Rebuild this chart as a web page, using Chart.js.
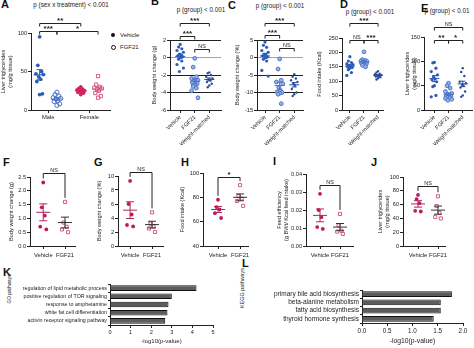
<!DOCTYPE html>
<html>
<head>
<meta charset="utf-8">
<script src="https://cdn.jsdelivr.net/npm/chart.js@4.4.1/dist/chart.umd.min.js"></script>
<style>
    body { margin: 0; width: 474px; height: 348px; overflow: hidden; position: relative; background: #fff;
           font-family: "Liberation Sans", Arial, sans-serif; color: #222; }
    canvas { position: absolute; }
    .txt { position: absolute; white-space: nowrap; line-height: 1; }
    .letter { position: absolute; font-weight: bold; font-size: 11px; line-height: 1; color: #111; }
    .ptext { position: absolute; white-space: nowrap; font-size: 6.3px; line-height: 1; transform: translateX(-50%); }
    .vert { position: absolute; white-space: nowrap; line-height: 1; transform: translate(-50%, -50%) rotate(-90deg); }
</style>
</head>
<body>

<div class="letter" style="left:1px;top:-1px">A</div>
<div class="letter" style="left:151px;top:-4px">B</div>
<div class="letter" style="left:228px;top:0px">C</div>
<div class="letter" style="left:340px;top:-1px">D</div>
<div class="letter" style="left:421px;top:3px">E</div>
<div class="letter" style="left:3px;top:157px">F</div>
<div class="letter" style="left:94px;top:157px">G</div>
<div class="letter" style="left:181px;top:157px">H</div>
<div class="letter" style="left:273px;top:156px">I</div>
<div class="letter" style="left:371px;top:157px">J</div>
<div class="letter" style="left:3px;top:267px">K</div>
<div class="letter" style="left:242px;top:258px">L</div>

<div class="ptext" style="left:71px;top:2px">p (sex x treatment) &lt; 0.001</div>
<div class="ptext" style="left:201px;top:7px">p (group) &lt; 0.001</div>
<div class="ptext" style="left:280px;top:3px">p (group) &lt; 0.001</div>
<div class="ptext" style="left:370px;top:9px">p (group) &lt; 0.001</div>
<div class="ptext" style="left:447px;top:8px">p (group) &lt; 0.01</div>

<!-- legend of panel A -->
<div style="position:absolute;left:111px;top:33px;width:4px;height:4px;border-radius:50%;background:#111"></div>
<div style="position:absolute;left:111px;top:45px;width:3px;height:3px;border-radius:50%;border:1px solid #111"></div>
<div class="txt" style="left:120px;top:32px;font-size:6px">Vehicle</div>
<div class="txt" style="left:120px;top:44px;font-size:6px">FGF21</div>

<div class="vert" style="left:10px;top:289px;font-size:4.8px">GO pathways</div>
<div class="vert" style="left:243px;top:288px;font-size:5.4px">KEGG pathways</div>

<script>
// panel A: liver triglycerides by sex
const sexGroups = ['Male', 'Female'];
const aTicks = [0, 50, 100];
const aMaleVehicle = [95, 58, 50, 47, 46, 43, 40, 37, 21, 20];
const aMaleFgf21 = [23, 20, 18, 16, 15, 14, 12, 11, 8, 6];
const aFemaleVehicle = [30, 28, 27, 26, 25, 25, 24, 23, 22, 20];
const aFemaleFgf21 = [44, 33, 30, 29, 28, 27, 25, 22, 18, 16];

// panels B-E: three groups
const treatGroups = ['Vehicle', 'FGF21', 'Weight-matched'];
const bTicks = [-6, -4, -2, 0, 2];
const bVehicle = [1.5, 1.2, 1.0, 0.8, 0.6, 0.4, 0.3, 0.2, 0.1, 0.0, -0.2, -0.4, -0.8, -1.2, -1.6];
const bFgf21 = [-0.1, -1.1, -2.2, -2.4, -2.6, -2.7, -2.8, -2.9, -3.0, -3.1, -3.3, -3.5, -3.8, -4.6];
const bMatched = [-1.7, -1.8, -2.0, -2.2, -2.4, -2.5, -2.6, -2.8, -3.0, -3.2, -3.4];
const cTicks = [-15, -10, -5, 0, 5];
const cVehicle = [4.4, 3.5, 2.9, 2.0, 1.5, 1.0, 0.8, 0.5, 0.2, 0.0, -0.5, -1.0, -3.7, -5.3];
const cFgf21 = [-0.4, -3.3, -6.5, -7.0, -7.5, -8.5, -9.5, -9.8, -10.0, -10.2, -10.5, -13.2];
const cMatched = [-4.8, -5.5, -6.0, -6.5, -7.0, -7.5, -8.0, -9.0, -10.0, -10.5, -11.0];
const dTicks = [0, 50, 100, 150, 200, 250];
const dVehicle = [185, 170, 165, 160, 158, 155, 153, 150, 148, 145, 140, 130, 120];
const dFgf21 = [202, 175, 172, 170, 168, 166, 164, 162, 160, 158, 155, 150];
const dMatched = [135, 130, 126, 124, 122, 120, 118, 116, 114, 110, 106];
const eTicks = [0, 50, 100, 150];
const eVehicle = [98, 97, 86, 79, 72, 68, 64, 62, 58, 50, 48, 30, 27];
const eFgf21 = [55, 50, 45, 38, 34, 32, 30, 29, 28, 27, 26, 25, 24, 22, 20];
const eMatched = [86, 78, 70, 58, 55, 52, 50, 46, 38, 30, 27];

// panels F-J: two groups
const pairGroups = ['Vehicle', 'FGF21'];
const fTicks = [0, 0.5, 1, 1.5, 2, 2.5];
const fVehicle = [2.3, 1.4, 1.1, 0.7, 0.6];
const fFgf21 = [1.6, 0.85, 0.7, 0.6, 0.5];
const gTicks = [0, 2, 4, 6, 8, 10];
const gVehicle = [9.3, 6.0, 4.5, 3.0, 2.8];
const gFgf21 = [4.8, 3.2, 2.8, 2.5, 2.0];
const hTicks = [40, 60, 80, 100];
const hVehicle = [78, 72, 70, 67, 63];
const hFgf21 = [90, 81, 79, 77, 73];
const iTicks = [0, 0.01, 0.02, 0.03, 0.04];
const iVehicle = [0.029, 0.02, 0.016, 0.0105, 0.0095];
const iFgf21 = [0.0178, 0.0115, 0.0085, 0.008, 0.0067];
const jTicks = [0, 20, 40, 60, 80, 100];
const jVehicle = [74, 68, 62, 51, 50];
const jFgf21 = [72, 58, 48, 42, 40];

// panels K and L: pathway enrichment
const goPathways = ['regulation of lipid metabolic process', 'positive regulation of TOR signaling',
    'response to amphetamine', 'white fat cell differentiation', 'activin receptor signaling pathway'];
const goScores = [4.2, 3.0, 2.84, 2.79, 2.68];
const goTicks = [0, 1, 2, 3, 4, 5];
const keggPathways = ['primary bile acid biosynthesis', 'beta-alanine metabolism',
    'fatty acid biosynthesis', 'thyroid hormone synthesis'];
const keggScores = [1.78, 1.56, 1.56, 1.42];
const keggTicks = [0, 0.5, 1, 1.5, 2];

const FONT = "'Liberation Sans', Arial, sans-serif";
const INK = '#222';
const BLUE = '#2d5cb5';
const LIGHT_BLUE = '#4a72c8';
const CRIMSON = '#d3245e';
const PINK = '#d65a86';

function font(size, weight) {
    return { family: FONT, size: size, weight: weight || 'normal', lineHeight: 1.2 };
}

function makeCanvas(L, T, W, H) {
    const c = document.createElement('canvas');
    c.width = W;
    c.height = H;
    c.style.left = L + 'px';
    c.style.top = T + 'px';
    document.body.appendChild(c);
    return c;
}

// keep axis boxes at a fixed size so the plot area lands where the figure has it
function fixSize(size, vertical) {
    return function(s) {
        if (vertical) s.width = size; else s.height = size;
        s.paddingLeft = s.paddingRight = s.paddingTop = s.paddingBottom = 0;
    };
}

// beeswarm-like spread, just a style pattern by rank
const spreadPattern = [0, -1, 1, -2, 2, -0.5, 0.5, -1.5, 1.5];

function stats(arr) {
    const n = arr.length;
    const mean = arr.reduce((a, b) => a + b, 0) / n;
    const sd = Math.sqrt(arr.reduce((a, b) => a + (b - mean) * (b - mean), 0) / (n - 1));
    return { mean: mean, sem: sd / Math.sqrt(n) };
}

function dotPlot(p) {
    const c = makeCanvas(p.box[0], p.box[1], p.box[2], p.box[3]);
    const [L, T, W, H] = p.box;
    const [l, t, r, b] = p.area;

    const marks = {
        id: 'marks',
        afterDatasetsDraw(chart) {
            const ctx = chart.ctx, xs = chart.scales.x, ys = chart.scales.y;
            ctx.save();
            ctx.lineWidth = 1;
            p.series.forEach(s => {
                const st = stats(s.data);
                const cx = xs.getPixelForValue(s.cat + s.shift);
                const ym = ys.getPixelForValue(st.mean);
                const y1 = ys.getPixelForValue(st.mean + st.sem);
                const y2 = ys.getPixelForValue(st.mean - st.sem);
                ctx.strokeStyle = s.meanColor || s.color;
                ctx.beginPath();
                ctx.moveTo(cx - p.meanW, ym); ctx.lineTo(cx + p.meanW, ym);
                ctx.moveTo(cx, y1); ctx.lineTo(cx, y2);
                ctx.moveTo(cx - p.capW, y1); ctx.lineTo(cx + p.capW, y1);
                ctx.moveTo(cx - p.capW, y2); ctx.lineTo(cx + p.capW, y2);
                ctx.stroke();
            });
            // significance brackets
            ctx.strokeStyle = INK;
            ctx.fillStyle = INK;
            ctx.textAlign = 'center';
            ctx.textBaseline = 'alphabetic';
            (p.brackets || []).forEach(br => {
                const sa = p.series[br.a], sb = p.series[br.b];
                const x1 = xs.getPixelForValue(sa.cat + sa.shift);
                const x2 = xs.getPixelForValue(sb.cat + sb.shift);
                const y = Math.round(ys.getPixelForValue(br.y)) + 0.5;
                let l1 = y + 3, l2 = y + 3;
                if (p.longLegs) {
                    l1 = ys.getPixelForValue(Math.max(...sa.data)) - 4;
                    l2 = ys.getPixelForValue(Math.max(...sb.data)) - 4;
                }
                ctx.beginPath();
                ctx.moveTo(x1, l1); ctx.lineTo(x1, y); ctx.lineTo(x2, y); ctx.lineTo(x2, l2);
                ctx.stroke();
                const stars = br.text.indexOf('*') >= 0;
                ctx.font = stars ? 'bold 8px ' + FONT : '5.5px ' + FONT;
                ctx.fillText(br.text, (x1 + x2) / 2, stars ? y - 1 : y - 2);
            });
            ctx.restore();
        }
    };

    const datasets = p.series.map(s => ({
        data: s.data.map((v, i) => ({
            x: s.cat + s.shift + spreadPattern[i % spreadPattern.length] * p.spread,
            y: v
        })),
        pointStyle: s.style || 'circle',
        pointRadius: s.r,
        pointBorderWidth: s.open ? 1 : 0,
        pointBackgroundColor: s.open ? (s.fill || 'rgba(255,255,255,0)') : s.color,
        pointBorderColor: s.color,
        clip: false
    }));

    const yTicks = p.ticks;
    new Chart(c, {
        type: 'scatter',
        data: { datasets: datasets },
        options: {
            responsive: false,
            animation: false,
            events: [],
            layout: { autoPadding: false, padding: { left: 0, top: t - T, right: L + W - r, bottom: 0 } },
            plugins: { legend: { display: false }, tooltip: { enabled: false } },
            scales: {
                x: {
                    type: 'linear',
                    min: p.xRange[0],
                    max: p.xRange[1],
                    afterBuildTicks: s => { s.ticks = p.labels.map((_, i) => ({ value: i })); },
                    afterFit: fixSize(T + H - b, false),
                    ticks: {
                        callback: v => p.labels[v],
                        font: font(p.xFont || 5.8),
                        color: INK,
                        padding: p.xPad || 1,
                        autoSkip: false,
                        maxRotation: p.rotate || 0,
                        minRotation: p.rotate || 0
                    },
                    grid: { display: true, drawOnChartArea: false, tickLength: 3, color: INK, tickColor: INK },
                    border: { display: true, color: INK, width: 1 }
                },
                y: {
                    min: yTicks[0],
                    max: yTicks[yTicks.length - 1],
                    afterBuildTicks: s => { s.ticks = yTicks.map(v => ({ value: v })); },
                    afterFit: fixSize(l - L, true),
                    ticks: {
                        callback: p.fmt || (v => v),
                        font: font(5.6),
                        color: INK,
                        padding: 1
                    },
                    grid: {
                        display: true,
                        drawOnChartArea: !!p.zeroLine,
                        tickLength: 3,
                        color: ctx => (p.zeroLine && ctx.tick && ctx.tick.value === 0) ? '#98a4b4' : INK,
                        tickColor: INK
                    },
                    border: { display: true, color: INK, width: 1 },
                    title: { display: true, text: p.yTitle, font: font(5.6), color: INK, padding: 0 }
                }
            }
        },
        plugins: [marks]
    });
}

function barPanel(p) {
    const c = makeCanvas(p.box[0], p.box[1], p.box[2], p.box[3]);
    const [L, T, W, H] = p.box;
    const [l, t, r, b] = p.area;
    const xTicks = p.ticks;
    new Chart(c, {
        type: 'bar',
        data: {
            labels: p.labels,
            datasets: [{
                data: p.values,
                backgroundColor: '#5c5c5c',
                borderColor: '#111',
                borderWidth: 1,
                barPercentage: 0.68,
                categoryPercentage: 1
            }]
        },
        options: {
            indexAxis: 'y',
            responsive: false,
            animation: false,
            events: [],
            layout: { autoPadding: false, padding: { left: 0, top: t - T, right: L + W - r, bottom: 0 } },
            plugins: { legend: { display: false }, tooltip: { enabled: false } },
            scales: {
                x: {
                    min: xTicks[0],
                    max: xTicks[xTicks.length - 1],
                    afterBuildTicks: s => { s.ticks = xTicks.map(v => ({ value: v })); },
                    afterFit: fixSize(T + H - b, false),
                    ticks: { callback: p.fmt, font: font(p.tickFont), color: INK, padding: 1 },
                    grid: { display: true, drawOnChartArea: false, tickLength: 3, color: INK, tickColor: INK },
                    border: { display: true, color: INK, width: 1 },
                    title: { display: true, text: '-log10(p-value)', font: font(p.titleFont), color: INK,
                              padding: { top: 1, bottom: 3 } }
                },
                y: {
                    afterFit: fixSize(l - L, true),
                    ticks: { font: font(p.labelFont), color: INK, padding: 1, autoSkip: false },
                    grid: { display: true, drawOnChartArea: false, tickLength: 2, color: INK, tickColor: INK },
                    border: { display: true, color: INK, width: 1 }
                }
            }
        }
    });
}

// ---- panel A ----
dotPlot({
    box: [0, 0, 112, 125], area: [31, 33, 110, 110],
    labels: sexGroups, ticks: aTicks, xRange: [-0.42, 1.5],
    yTitle: ['Liver triglycerides', '(mg/g tissue)'],
    spread: 0.045, meanW: 6, capW: 3,
    series: [
        { data: aMaleVehicle, cat: 0, shift: -0.21, color: BLUE, r: 1.9 },
        { data: aMaleFgf21, cat: 0, shift: 0.21, color: LIGHT_BLUE, r: 2.1, open: true },
        { data: aFemaleVehicle, cat: 1, shift: -0.21, color: CRIMSON, r: 1.9 },
        { data: aFemaleFgf21, cat: 1, shift: 0.21, color: PINK, r: 2.3, open: true, style: 'rect' }
    ],
    brackets: [
        { a: 0, b: 1, y: 103, text: '***' },
        { a: 1, b: 3, y: 103, text: '*' },
        { a: 0, b: 2, y: 113, text: '**' }
    ]
});

// three-group panels share their look
function threeGroup(box, area, ticks, xRange, yTitle, vehicle, fgf21, matched, brackets, zeroLine) {
    dotPlot({
        box: box, area: area, labels: treatGroups, ticks: ticks, xRange: xRange,
        yTitle: yTitle, spread: 0.11, meanW: 5, capW: 2.5, rotate: 45, xFont: 5.6, zeroLine: zeroLine,
        series: [
            { data: vehicle, cat: 0, shift: 0, color: BLUE, r: 1.6 },
            { data: fgf21, cat: 1, shift: 0, color: LIGHT_BLUE, fill: '#9fb5e6', r: 1.9, open: true },
            { data: matched, cat: 2, shift: 0, color: '#2a4c9c', r: 1.2 }
        ],
        brackets: brackets
    });
}

threeGroup([151, 0, 74, 145], [170, 40, 221, 110], bTicks, [-0.7, 2.8], 'Body weight change (g)',
    bVehicle, bFgf21, bMatched,
    [{ a: 0, b: 2, y: 3.9, text: '***' }, { a: 0, b: 1, y: 2.5, text: '***' }, { a: 1, b: 2, y: 1.0, text: 'NS' }], true);

threeGroup([234, 0, 72, 145], [257, 40, 303, 110], cTicks, [-0.55, 2.6], 'Body weight change (%)',
    cVehicle, cFgf21, cMatched,
    [{ a: 0, b: 2, y: 9.8, text: '***' }, { a: 0, b: 1, y: 6.5, text: '***' }, { a: 1, b: 2, y: 2.8, text: 'NS' }], true);

threeGroup([316, 0, 70, 145], [342, 38, 383, 110], dTicks, [-0.56, 2.35], 'Food intake (Kcal)',
    dVehicle, dFgf21, dMatched,
    [{ a: 0, b: 2, y: 303, text: '***' }, { a: 0, b: 1, y: 243, text: 'NS' }, { a: 1, b: 2, y: 243, text: '***' }], false);

threeGroup([404, 0, 70, 145], [424, 37, 472, 110], eTicks, [-0.73, 2.65], ['Liver triglycerides', '(mg/g tissue)'],
    eVehicle, eFgf21, eMatched,
    [{ a: 0, b: 2, y: 171, text: 'NS' }, { a: 0, b: 1, y: 144, text: '**' }, { a: 1, b: 2, y: 144, text: '*' }], false);

// two-group panels (females)
function twoGroup(box, area, ticks, xRange, yTitle, vehicle, fgf21, bracket, fmt) {
    dotPlot({
        box: box, area: area, labels: pairGroups, ticks: ticks, xRange: xRange,
        yTitle: yTitle, spread: 0.07, meanW: 7, capW: 4, xFont: 5.8, xPad: 3, longLegs: true, fmt: fmt,
        series: [
            { data: vehicle, cat: 0, shift: 0, color: '#c2185b', meanColor: '#b3245c', r: 1.9 },
            { data: fgf21, cat: 1, shift: 0, color: PINK, meanColor: '#333', r: 2.2, open: true, style: 'rect' }
        ],
        brackets: [bracket]
    });
}

twoGroup([8, 165, 72, 97], [30, 177, 75, 246], fTicks, [-0.61, 1.46], 'Body weight change (g)',
    fVehicle, fFgf21, { a: 0, b: 1, y: 2.65, text: 'NS' }, v => v.toFixed(1));
twoGroup([96, 165, 72, 97], [118, 176, 163, 246], gTicks, [-0.55, 1.5], 'Body weight change (%)',
    gVehicle, gFgf21, { a: 0, b: 1, y: 10.6, text: 'NS' });
twoGroup([179, 165, 72, 97], [203, 173, 248, 246], hTicks, [-0.68, 1.36], 'Food intake (Kcal)',
    hVehicle, hFgf21, { a: 0, b: 1, y: 97, text: '*' });
twoGroup([276, 165, 80, 97], [306, 174, 353, 246], iTicks, [-0.7, 1.65], ['Feed efficiency', '(g BWt/ Kcal feed intake)'],
    iVehicle, iFgf21, { a: 0, b: 1, y: 0.0339, text: 'NS' }, v => v.toFixed(2));
twoGroup([377, 165, 70, 97], [403, 177, 445, 246], jTicks, [-0.75, 1.35], ['Liver triglycerides', '(mg/g tissue)'],
    jVehicle, jFgf21, { a: 0, b: 1, y: 87, text: 'NS' });

// ---- panels K and L ----
barPanel({
    box: [0, 278, 222, 70], area: [110, 284, 213, 325],
    labels: goPathways, values: goScores, ticks: goTicks, fmt: v => v,
    tickFont: 5.6, labelFont: 5.3, titleFont: 6
});
barPanel({
    box: [250, 278, 224, 70], area: [362, 290, 463, 323],
    labels: keggPathways, values: keggScores, ticks: keggTicks, fmt: v => v.toFixed(1),
    tickFont: 6.3, labelFont: 6.5, titleFont: 6.8
});
</script>
</body>
</html>
